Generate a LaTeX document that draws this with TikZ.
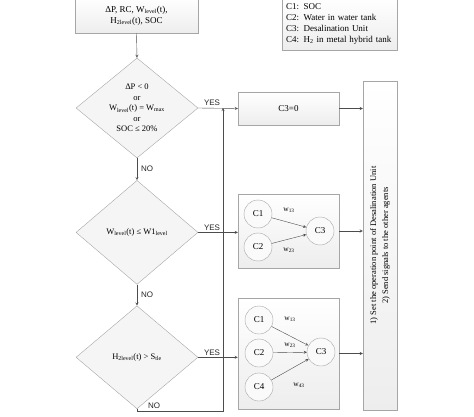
\documentclass[tikz,border=0pt]{standalone}
\usepackage{fontspec}
\setmainfont{Liberation Serif}
\newfontfamily\yesnofont{Liberation Sans}
\usetikzlibrary{shapes.geometric, arrows.meta, positioning, calc}
\tikzstyle{process} = [rectangle, draw=gray!70, top color=white, bottom color=gray!14, align=center, text centered, font=\fontsize{9}{11}\selectfont]
\tikzstyle{decision} = [diamond, draw=gray!70, fill=gray!8, align=center, inner sep=-2pt, font=\fontsize{8.5}{10.5}\selectfont]
\tikzstyle{concept} = [circle, draw=gray!70, fill=gray!4, minimum size=28pt, inner sep=0pt, font=\fontsize{9}{10}\selectfont]
\tikzstyle{arrow} = [->, >=stealth, draw=gray!60!black]
\tikzstyle{yesno} = [font=\yesnofont\fontsize{8}{9}\selectfont, text=black!85, inner sep=1pt]
\tikzstyle{weight} = [font=\fontsize{7.5}{8}\selectfont, inner sep=1pt]

\begin{document}
\begin{tikzpicture}[x=1pt, y=-1pt, node distance=22pt]
    \useasboundingbox (0,0) rectangle (474,417);
    % inputs and legend
    \node (inputs) [process, minimum width=123pt, minimum height=35pt] at (136.5,15.5) {ΔP, RC, W\textsubscript{level}(t),\\H\textsubscript{2level}(t), SOC};
    \node (legend) [process, align=left, text width=108pt, minimum width=114pt, minimum height=52pt] at (340,24) {C1: SOC\\C2: Water in water tank\\C3: Desalination Unit\\C4: H\textsubscript{2} in metal hybrid tank};

    % decisions
    \node (d1) [decision, minimum width=122pt, minimum height=100pt] at (137,108) {ΔP < 0\\or\\W\textsubscript{level}(t) = W\textsubscript{max}\\or\\SOC ≤ 20\%};
    \node (d2) [decision, below=22pt of d1, minimum width=122pt, minimum height=104pt] {W\textsubscript{level}(t) ≤ W1\textsubscript{level}};
    \node (d3) [decision, below=21pt of d2, minimum width=122pt, minimum height=103pt] {H\textsubscript{2level}(t) > S\textsubscript{tle}};

    % actions
    \node (zero) [process, minimum width=101pt, minimum height=33pt] at (288.5,108.5) {C3=0};
    \node (fcm2) [process, minimum width=101pt, minimum height=74pt] at (288.5,231) {};
    \node (fcm3) [process, minimum width=101pt, minimum height=111pt] at (288.5,353.5) {};
    \node (final) [process, minimum width=34pt, minimum height=329pt] at (380,245.5) {};
    \node [rotate=90, align=center, font=\fontsize{8.5}{12}\selectfont] at (final.center) {1) Set the operation point of Desalination Unit\\2) Send signals to the other agents};

    % concepts in the second box
    \node (a1) [concept] at (258,214) {C1};
    \node (a2) [concept] at (258,247) {C2};
    \node (a3) [concept] at (320,231) {C3};
    \draw [arrow] (a1) -- node[weight, yshift=12.5pt] {w\textsubscript{13}} (a3);
    \draw [arrow] (a2) -- node[weight, yshift=-11.5pt] {w\textsubscript{23}} (a3);

    % concepts in the third box
    \node (b1) [concept] at (259,320) {C1};
    \node (b2) [concept] at (259,353) {C2};
    \node (b4) [concept] at (259,387) {C4};
    \node (b3) [concept] at (321,352) {C3};
    \draw [arrow] (b1) -- node[weight, yshift=17pt] {w\textsubscript{13}} (b3);
    \draw [arrow] (b2) -- node[weight, yshift=7pt] {w\textsubscript{23}} (b3);
    \draw [arrow] (b4) -- node[weight, xshift=9pt, yshift=-16pt] {w\textsubscript{43}} (b3);

    % flow
    \draw [arrow] (inputs.south) -- (d1.north);
    \draw [arrow] (d1.south) -- node[yesno, right=3pt] {NO} (d2.north);
    \draw [arrow] (d2.south) -- node[yesno, right=3pt] {NO} (d3.north);
    \draw [arrow] (d1.east) -- node[yesno, pos=0.35, above=1pt] {YES} (zero.west);
    \draw [arrow] (d2.east) -- node[yesno, pos=0.35, above=1pt] {YES} (d2.east -| fcm2.west);
    \draw [arrow] (d3.east) -- node[yesno, pos=0.35, above=1pt] {YES} (d3.east -| fcm3.west);
    \coordinate (bend) at (223,411);
    \draw [arrow] (d3.south) |- node[yesno, pos=0.6, above=1pt] {NO} (bend) -- (d1.east -| bend);
    \foreach \i in {zero, fcm2, fcm3} {
        \draw [arrow] (\i.east) -- (\i.east -| final.west);
    }
\end{tikzpicture}
\end{document}
